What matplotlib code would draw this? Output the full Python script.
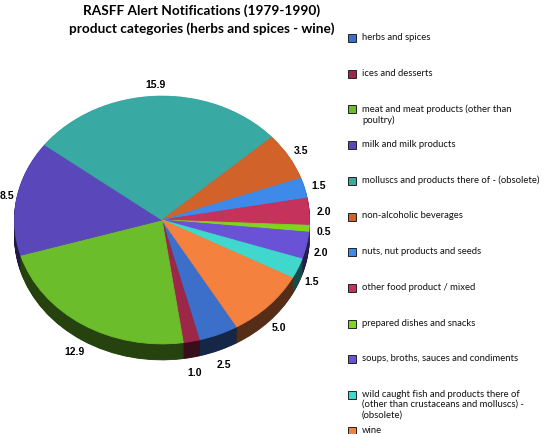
import numpy as np
import matplotlib
matplotlib.use("Agg")
import matplotlib.pyplot as plt
from matplotlib.colors import to_rgb
from matplotlib.patches import Rectangle

# data
categories = [
    "herbs and spices",
    "ices and desserts",
    "meat and meat products (other than\npoultry)",
    "milk and milk products",
    "molluscs and products there of - (obsolete)",
    "non-alcoholic beverages",
    "nuts, nut products and seeds",
    "other food product / mixed",
    "prepared dishes and snacks",
    "soups, broths, sauces and condiments",
    "wild caught fish and products there of\n(other than crustaceans and molluscs) -\n(obsolete)",
    "wine",
]
values = [2.5, 1.0, 12.9, 8.5, 15.9, 3.5, 1.5, 2.0, 0.5, 2.0, 1.5, 5.0]
value_labels = ["%.1f" % v for v in values]

colors = ["#3b6fc9", "#9c2748", "#6cbd2b", "#5a47b9", "#38a9a3", "#d1632a",
          "#3d8aea", "#c5325b", "#7fd321", "#6a52d7", "#40d8cd", "#f5813f"]
side_colors = [tuple(c * 0.35 for c in to_rgb(col)) for col in colors]

W, H = 544, 435
sq = 0.84             # vertical squash of the pie (tilt)
cx, cy_px = 162, 221  # centre in pixels
r = 147.5
depth_px = 16
start = 300.5

fig = plt.figure(figsize=(W / 100, H / 100), dpi=100)
ax = fig.add_axes([0, 0, 1, 1])

cy = (H - cy_px) / sq
depth = depth_px / sq

# side of the "3d" pie: stacked darker copies
nlayers = 24
for k in range(nlayers, 0, -1):
    ax.pie(values, colors=side_colors, radius=r, startangle=start,
           counterclock=False, center=(cx, cy - depth * k / nlayers),
           wedgeprops=dict(linewidth=0.6))
for w, c in zip(ax.patches, side_colors * nlayers):
    w.set_edgecolor(c)

wedges, texts = ax.pie(values, colors=colors, radius=r, startangle=start,
                       counterclock=False, center=(cx, cy),
                       labels=value_labels, labeldistance=1.1,
                       wedgeprops=dict(linewidth=0.6),
                       textprops=dict(fontsize=7.5, fontweight="bold",
                                      family="Liberation Sans",
                                      ha="center", va="center"))
for w, c in zip(wedges, colors):
    w.set_edgecolor(c)

# push labels of the lower half below the pie side, keep them inside the figure
for w, t in zip(wedges, texts):
    mid = np.deg2rad((w.theta1 + w.theta2) / 2)
    x, y = t.get_position()
    if np.sin(mid) < 0:
        y = y + depth * 1.2 * np.sin(mid)
    t.set_position((max(x, 7), y))

ax.set_aspect("auto")
ax.set_xlim(0, W)
ax.set_ylim(0, H / sq)
ax.axis("off")

fig.text(202 / W, 1 - 20 / H,
         "RASFF Alert Notifications (1979-1990)\nproduct categories (herbs and spices - wine)",
         ha="center", va="center", fontsize=9.8, fontweight="bold",
         family="Lato", linespacing=1.5)

# legend
y0, step = 39, 35.7
for i, (lab, col) in enumerate(zip(categories, colors)):
    yp = y0 + i * step
    fig.patches.append(Rectangle((348 / W, 1 - (yp + 4) / H), 8 / W, 8 / H,
                                 transform=fig.transFigure, facecolor=col,
                                 edgecolor="#222222", linewidth=0.7))
    fig.text(362 / W, 1 - (yp - 6) / H, lab, ha="left", va="top",
             fontsize=6.85, family="Lato", linespacing=1.15, color="#111111")

fig.savefig("out.png", dpi=100)
